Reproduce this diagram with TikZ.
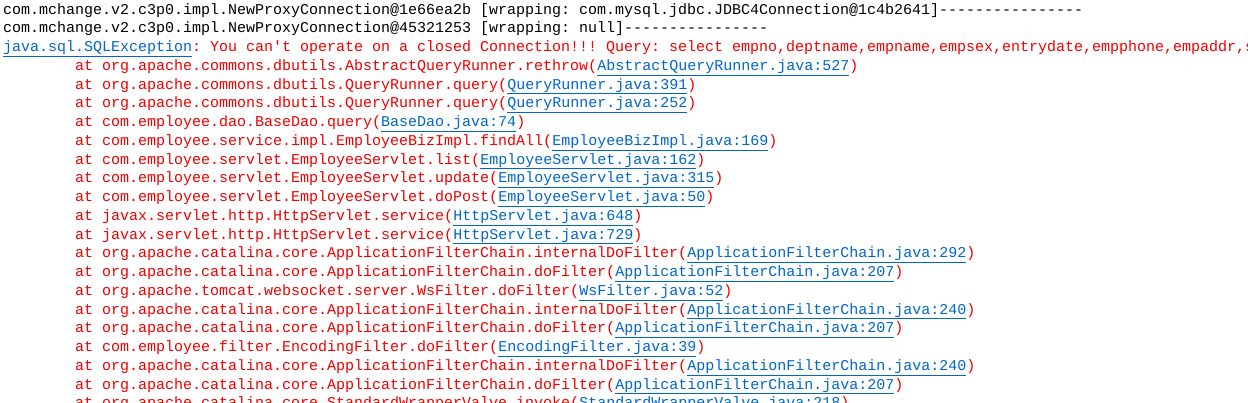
\documentclass[tikz,border=0pt]{standalone}
\usepackage{fontspec}
\setmonofont{Liberation Mono}
\definecolor{errred}{HTML}{F00000}
\definecolor{linkblue}{HTML}{0066CC}
\newcommand{\lnk}[1]{\textcolor{linkblue}{\underline{#1}}}
\begin{document}
\begin{tikzpicture}[x=1pt,y=-1pt,
  ln/.style={anchor=base west,inner sep=0pt,font=\ttfamily\fontsize{15}{15}\selectfont},
  blk/.style={ln,text=black},
  red/.style={ln,text=errred}]
\useasboundingbox (0,0) rectangle (1248,402);
\clip (0,0) rectangle (1248,402);
\fill[white] (0,0) rectangle (1248,402);
\def\p{18.75}
\node[blk] (l1) at (3,14) {com.mchange.v2.c3p0.impl.NewProxyConnection@1e66ea2b [wrapping: com.mysql.jdbc.JDBC4Connection@1c4b2641]----------------};
\node[blk] (l2) at (3,14+\p) {com.mchange.v2.c3p0.impl.NewProxyConnection@45321253 [wrapping: null]----------------};
\node[red] (l3) at (3,14+2*\p) {\lnk{java.sql.SQLException}: You can't operate on a closed Connection!!! Query: select empno,deptname,empname,empsex,entrydate,empphone,empaddr,s};
\foreach \i/\a/\b in {
 3/org.apache.commons.dbutils.AbstractQueryRunner.rethrow/AbstractQueryRunner.java:527,
 4/org.apache.commons.dbutils.QueryRunner.query/QueryRunner.java:391,
 5/org.apache.commons.dbutils.QueryRunner.query/QueryRunner.java:252,
 6/com.employee.dao.BaseDao.query/BaseDao.java:74,
 7/com.employee.service.impl.EmployeeBizImpl.findAll/EmployeeBizImpl.java:169,
 8/com.employee.servlet.EmployeeServlet.list/EmployeeServlet.java:162,
 9/com.employee.servlet.EmployeeServlet.update/EmployeeServlet.java:315,
 10/com.employee.servlet.EmployeeServlet.doPost/EmployeeServlet.java:50,
 11/javax.servlet.http.HttpServlet.service/HttpServlet.java:648,
 12/javax.servlet.http.HttpServlet.service/HttpServlet.java:729,
 13/org.apache.catalina.core.ApplicationFilterChain.internalDoFilter/ApplicationFilterChain.java:292,
 14/org.apache.catalina.core.ApplicationFilterChain.doFilter/ApplicationFilterChain.java:207,
 15/org.apache.tomcat.websocket.server.WsFilter.doFilter/WsFilter.java:52,
 16/org.apache.catalina.core.ApplicationFilterChain.internalDoFilter/ApplicationFilterChain.java:240,
 17/org.apache.catalina.core.ApplicationFilterChain.doFilter/ApplicationFilterChain.java:207,
 18/com.employee.filter.EncodingFilter.doFilter/EncodingFilter.java:39,
 19/org.apache.catalina.core.ApplicationFilterChain.internalDoFilter/ApplicationFilterChain.java:240,
 20/org.apache.catalina.core.ApplicationFilterChain.doFilter/ApplicationFilterChain.java:207,
 21/org.apache.catalina.core.StandardWrapperValve.invoke/StandardWrapperValve.java:218}
 \node[red] (s\i) at (75,14+\i*\p) {at \a(\lnk{\b})};
\end{tikzpicture}
\end{document}
